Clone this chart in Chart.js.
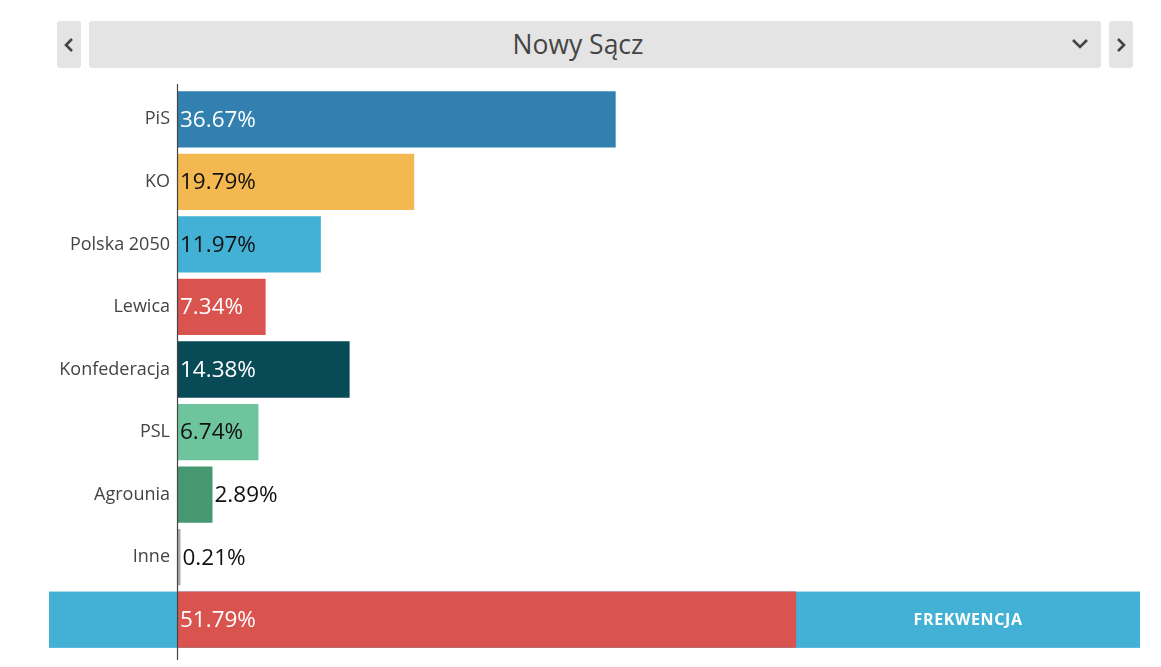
<!DOCTYPE html>
<html><head><meta charset="utf-8">
<script src="https://cdn.jsdelivr.net/npm/chart.js@4"></script>
<style>
html,body{margin:0;padding:0;background:#fff;width:1161px;height:667px;overflow:hidden;font-family:"Open Sans",sans-serif;}
#wrap{position:relative;width:1161px;height:667px;}
canvas{position:absolute;left:0;top:0;}
.box{position:absolute;top:21px;height:47px;background:#e4e4e4;border-radius:3px;}
#title{position:absolute;top:21px;left:89px;width:978px;height:47px;line-height:47px;text-align:center;font-size:26.5px;color:#444;font-family:"Open Sans",sans-serif;}
svg{position:absolute;}
</style></head>
<body><div id="wrap">
<div class="box" style="left:57px;width:24px"></div>
<div class="box" style="left:89px;width:1012px"></div>
<div class="box" style="left:1109px;width:24px"></div>
<div id="title">Nowy Sącz</div>
<svg style="left:63px;top:37px" width="12" height="16"><polyline points="9,2 3,8 9,14" fill="none" stroke="#444" stroke-width="2.6"/></svg>
<svg style="left:1115px;top:37px" width="12" height="16"><polyline points="3,2 9,8 3,14" fill="none" stroke="#444" stroke-width="2.6"/></svg>
<svg style="left:1071px;top:38px" width="18" height="12"><polyline points="2,2 9,9 16,2" fill="none" stroke="#444" stroke-width="2.6"/></svg>
<canvas id="c" width="1161" height="667"></canvas>
</div>
<script>
const categories = ["PiS","KO","Polska 2050","Lewica","Konfederacja","PSL","Agrounia","Inne"];
const values = [36.67,19.79,11.97,7.34,14.38,6.74,2.89,0.21];
const turnoutLabel = "FREKWENCJA";
const turnout = 51.79;
const barColors = ["#3180b0","#f3b84f","#42b1d5","#d9534f","#094a57","#6ec49d","#459870","#aaaaaa"];
const labelColors = ["#fff","#111","#111","#fff","#fff","#111","#111","#111"];
const turnoutColor = "#d9534f";
const turnoutBg = "#42b1d5";

const allLabels = categories.concat([""]);
const allValues = values.concat([turnout]);
const allColors = barColors.concat([turnoutColor]);
const allLabelColors = labelColors.concat(["#fff"]);

const custom = {
  id:'custom',
  beforeDatasetsDraw(chart){
    const ctx = chart.ctx, ca = chart.chartArea;
    const el = chart.getDatasetMeta(0).data[allValues.length-1];
    const h = el.height;
    ctx.save();
    ctx.fillStyle = turnoutBg;
    ctx.fillRect(ca.left-129, el.y-h/2, ca.right-(ca.left-129), h);
    ctx.restore();
  },
  afterDatasetsDraw(chart){
    const ctx = chart.ctx, ca = chart.chartArea;
    const meta = chart.getDatasetMeta(0);
    ctx.save();
    ctx.textBaseline = 'middle';
    meta.data.forEach((el,i)=>{
      const txt = allValues[i].toFixed(2)+'%';
      ctx.font = '22.5px "Open Sans", sans-serif';
      const w = el.x - el.base;
      let x, col;
      if (w < 40) { x = el.x + 2; col = '#111'; } else { x = el.base + 2; col = allLabelColors[i]; }
      ctx.fillStyle = col;
      ctx.textAlign = 'left';
      ctx.fillText(txt, x, el.y+1);
    });
    const last = meta.data[allValues.length-1];
    ctx.font = 'bold 16px "Open Sans", sans-serif';
    ctx.letterSpacing = '0.6px';
    ctx.fillStyle = '#fff';
    ctx.textAlign = 'center';
    ctx.fillText(turnoutLabel, (last.x + ca.right)/2, last.y+1);
    ctx.letterSpacing = '0px';
    ctx.strokeStyle = '#444';
    ctx.lineWidth = 1.2;
    ctx.beginPath();
    ctx.moveTo(Math.round(ca.left)-0.5, ca.top-4);
    ctx.lineTo(Math.round(ca.left)-0.5, ca.bottom+9);
    ctx.stroke();
    ctx.restore();
  }
};

new Chart(document.getElementById('c'), {
  type:'bar',
  data:{labels:allLabels, datasets:[{data:allValues, backgroundColor:allColors, borderWidth:0, barPercentage:0.9, categoryPercentage:1.0}]},
  options:{
    indexAxis:'y', responsive:false, animation:false,
    layout:{padding:{top:88,bottom:16,right:21,left:0}},
    plugins:{legend:{display:false},tooltip:{enabled:false}},
    scales:{
      x:{display:false,min:0,max:80.6},
      y:{
        afterFit(s){s.width=178; s.paddingTop=0; s.paddingBottom=0;},
        grid:{display:false,drawTicks:false},
        border:{display:false},
        ticks:{padding:8,color:'#444',font:{family:'"Open Sans", sans-serif',size:18}}
      }
    }
  },
  plugins:[custom]
});
</script>
</body></html>
